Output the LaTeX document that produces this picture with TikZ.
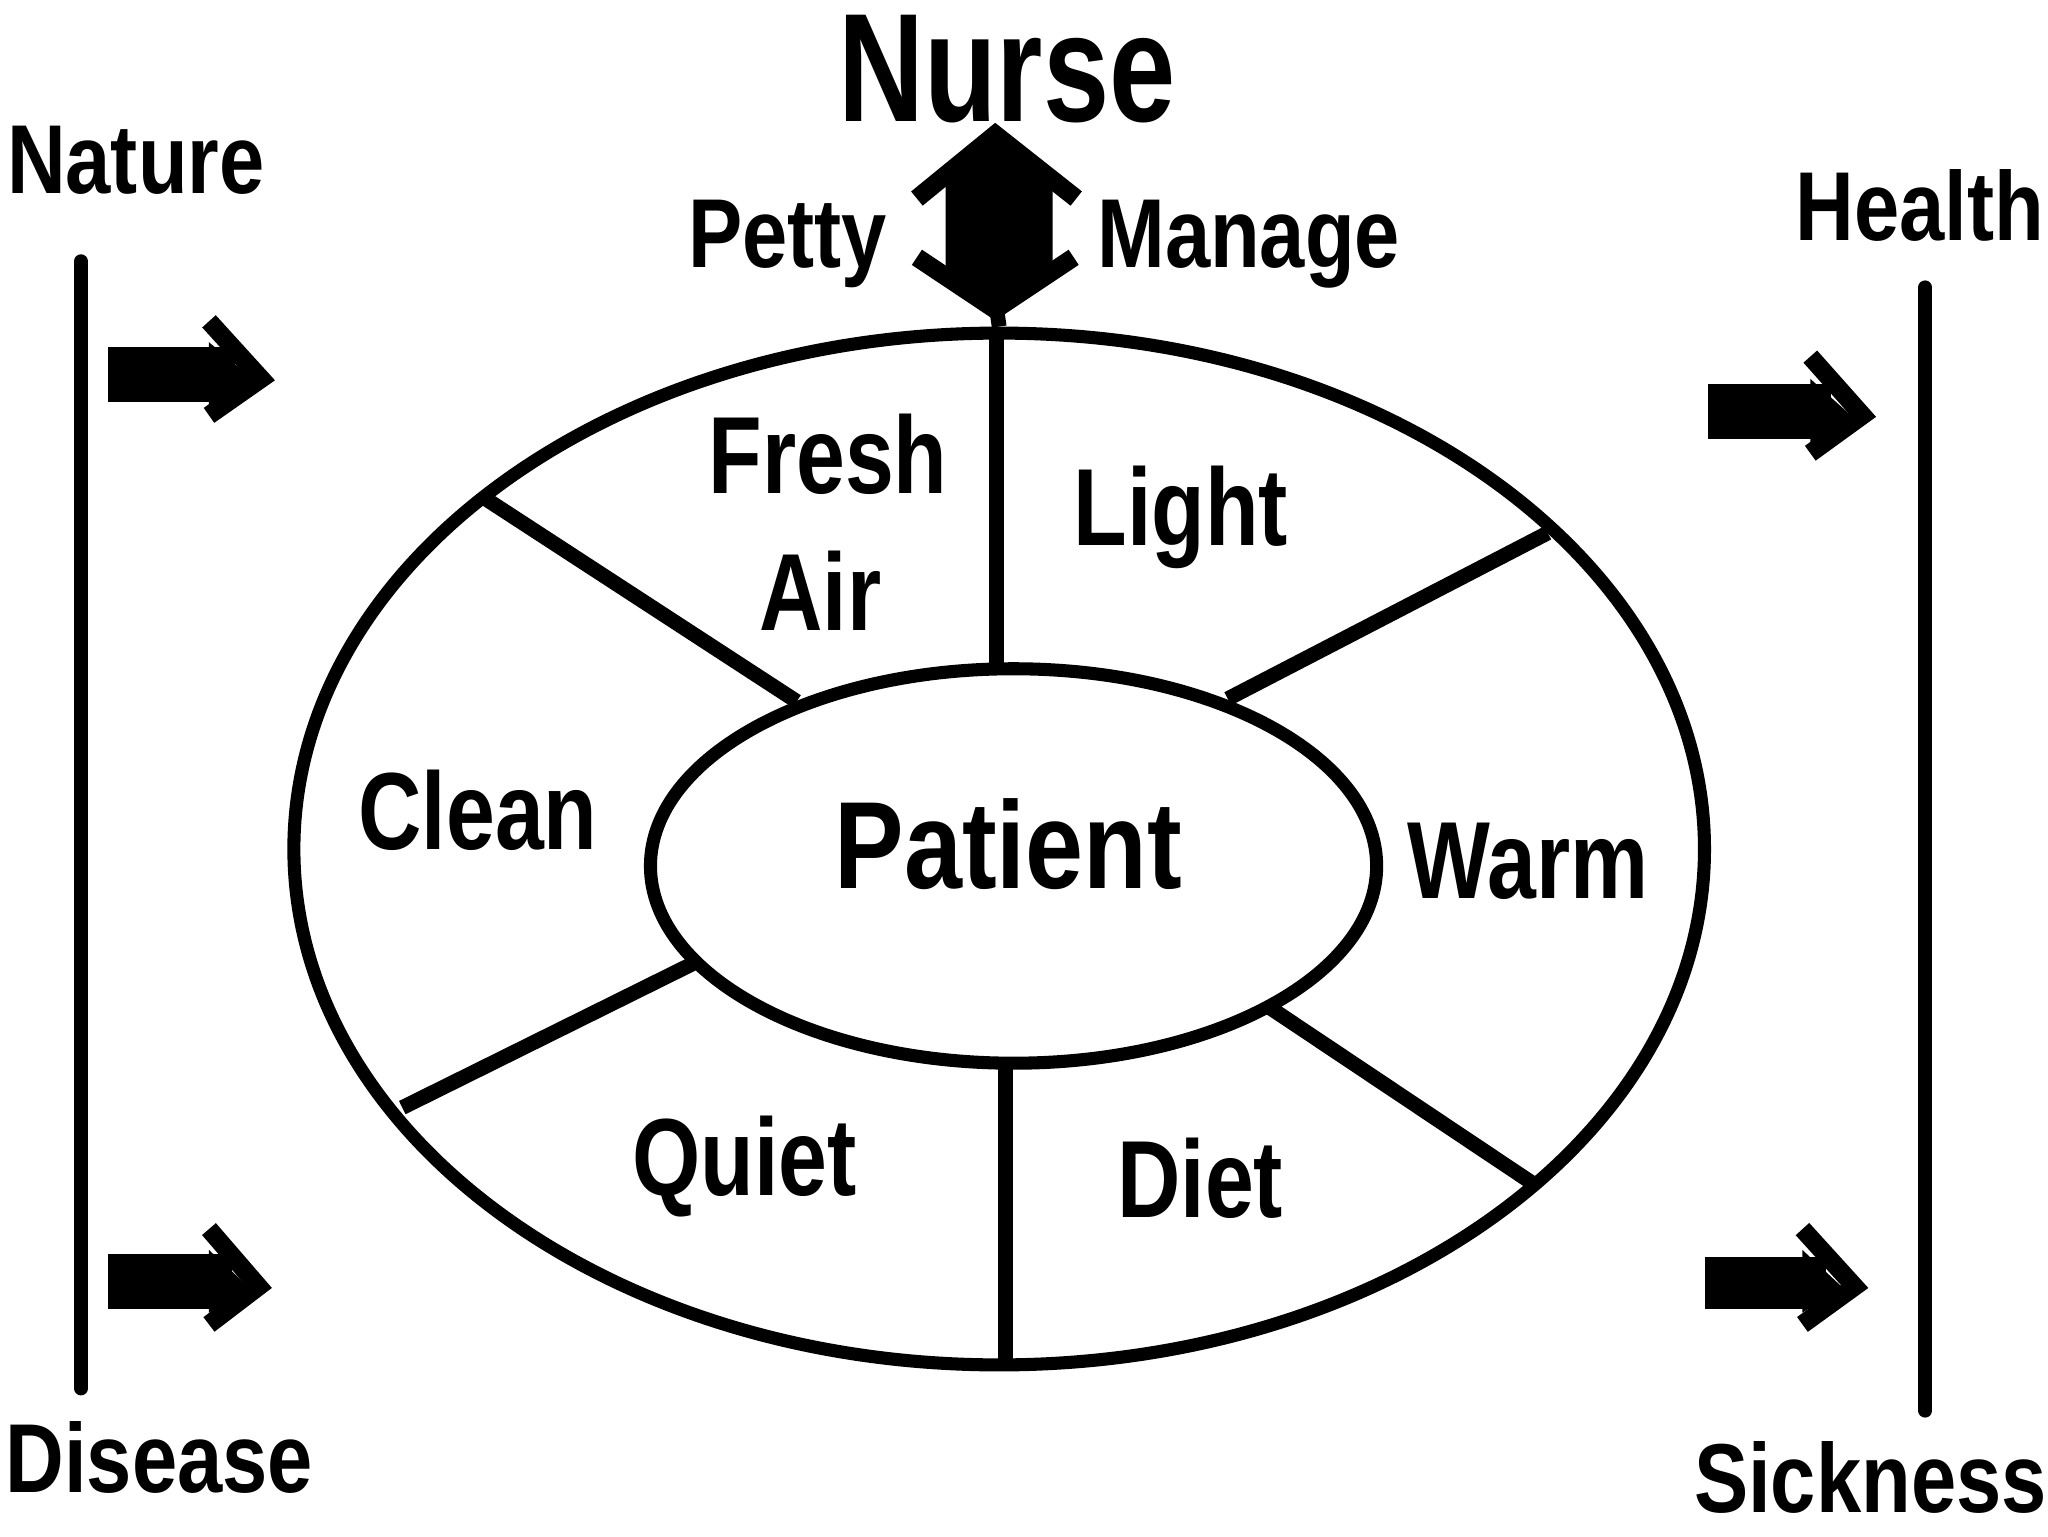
\documentclass[tikz,border=0pt]{standalone}
\usepackage{fontspec}
\usepackage{graphicx}
\setmainfont{Liberation Sans}
\usetikzlibrary{shapes.geometric}
\newcommand{\Cond}[2]{\scalebox{#1}[1]{#2}}
\begin{document}
\begin{tikzpicture}[x=0.3pt,y=-0.3pt,
  ring/.style={draw, ellipse, line width=3pt, inner sep=0pt},
  spoke/.style={line width=3.4pt},
  sidebar/.style={line width=3.2pt, line cap=round},
  chev/.style={line width=4.2pt, miter limit=10},
  outerlbl/.style={anchor=base, inner sep=0pt, font=\fontsize{22.5pt}{27pt}\selectfont\bfseries},
  innerlbl/.style={anchor=base, inner sep=0pt, font=\fontsize{25.2pt}{30pt}\selectfont\bfseries},
  patientlbl/.style={anchor=base, inner sep=0pt, font=\fontsize{28.5pt}{34pt}\selectfont\bfseries},
  nurselbl/.style={anchor=base, inner sep=0pt, font=\fontsize{35.5pt}{43pt}\selectfont\bfseries}]
\useasboundingbox (0,0) rectangle (1568,1176);
\fill[white] (0,0) rectangle (1568,1176);

% rings
\node[ring, minimum width=324pt, minimum height=237pt] (outer) at (765,650) {};
\node[ring, minimum width=166.8pt, minimum height=90.6pt] (inner) at (776,663) {};

% spokes
\draw[spoke] (763,253) -- (763,514);
\draw[spoke] (770,813) -- (770,1047);
\draw[spoke] (372,382) -- (610,537);
\draw[spoke] (1185,408) -- (940,535);
\draw[spoke] (308,848) -- (532,737);
\draw[spoke] (973,772) -- (1172,905);

% labels inside
\node[innerlbl] (fresh) at (634,378) {\Cond{0.8}{Fresh}};
\node[innerlbl] (air) at (628,483) {\Cond{0.8}{Air}};
\node[innerlbl] (light) at (904,418) {\Cond{0.8}{Light}};
\node[innerlbl] (clean) at (366,650) {\Cond{0.8}{Clean}};
\node[innerlbl] (warm) at (1170,688) {\Cond{0.8}{Warm}};
\node[innerlbl] (quiet) at (570,915) {\Cond{0.8}{Quiet}};
\node[innerlbl] (diet) at (919,932) {\Cond{0.8}{Diet}};
\node[patientlbl] (patient) at (772,680) {\Cond{0.84}{Patient}};

% nurse and double arrow
\node[nurselbl] (nurse) at (771,93) {\Cond{0.77}{Nurse}};
\node[outerlbl] (petty) at (603,205) {\Cond{0.83}{Petty}};
\node[outerlbl] (manage) at (956,205) {\Cond{0.83}{Manage}};
\fill (762,102) -- (806,136) -- (806,208) -- (762,238) -- (724,213) -- (724,131) -- cycle;
\draw[chev] (702,152) -- (762,103) -- (824,152);
\draw[chev] (702,197) -- (762,237) -- (822,197);
\draw[line width=3.4pt] (763,236) -- (outer.north);

% side bars
\draw[sidebar] (62,200) -- (62,1063);
\draw[sidebar] (1474,220) -- (1474,1080);
\node[outerlbl] (nature) at (104,148) {\Cond{0.83}{Nature}};
\node[outerlbl] (disease) at (122,1143) {\Cond{0.83}{Disease}};
\node[outerlbl] (health) at (1470,184) {\Cond{0.83}{Health}};
\node[outerlbl] (sickness) at (1432,1158) {\Cond{0.83}{Sickness}};

% block arrows
\fill (83,266) rectangle (180,308);
\fill (160,262) -- (192,289) -- (160,312) -- cycle;
\draw[chev] (160,246) -- (200,290) -- (160,318);
\fill (83,960) rectangle (178,1002);
\fill (160,957) -- (190,985) -- (160,1005) -- cycle;
\draw[chev] (160,941) -- (198,985) -- (160,1014);
\fill (1308,294) rectangle (1402,336);
\fill (1386,290) -- (1416,317) -- (1386,340) -- cycle;
\draw[chev] (1386,273) -- (1426,318) -- (1386,347);
\fill (1305,962) rectangle (1398,1002);
\fill (1380,957) -- (1410,985) -- (1380,1005) -- cycle;
\draw[chev] (1380,941) -- (1420,985) -- (1380,1014);
\end{tikzpicture}
\end{document}
